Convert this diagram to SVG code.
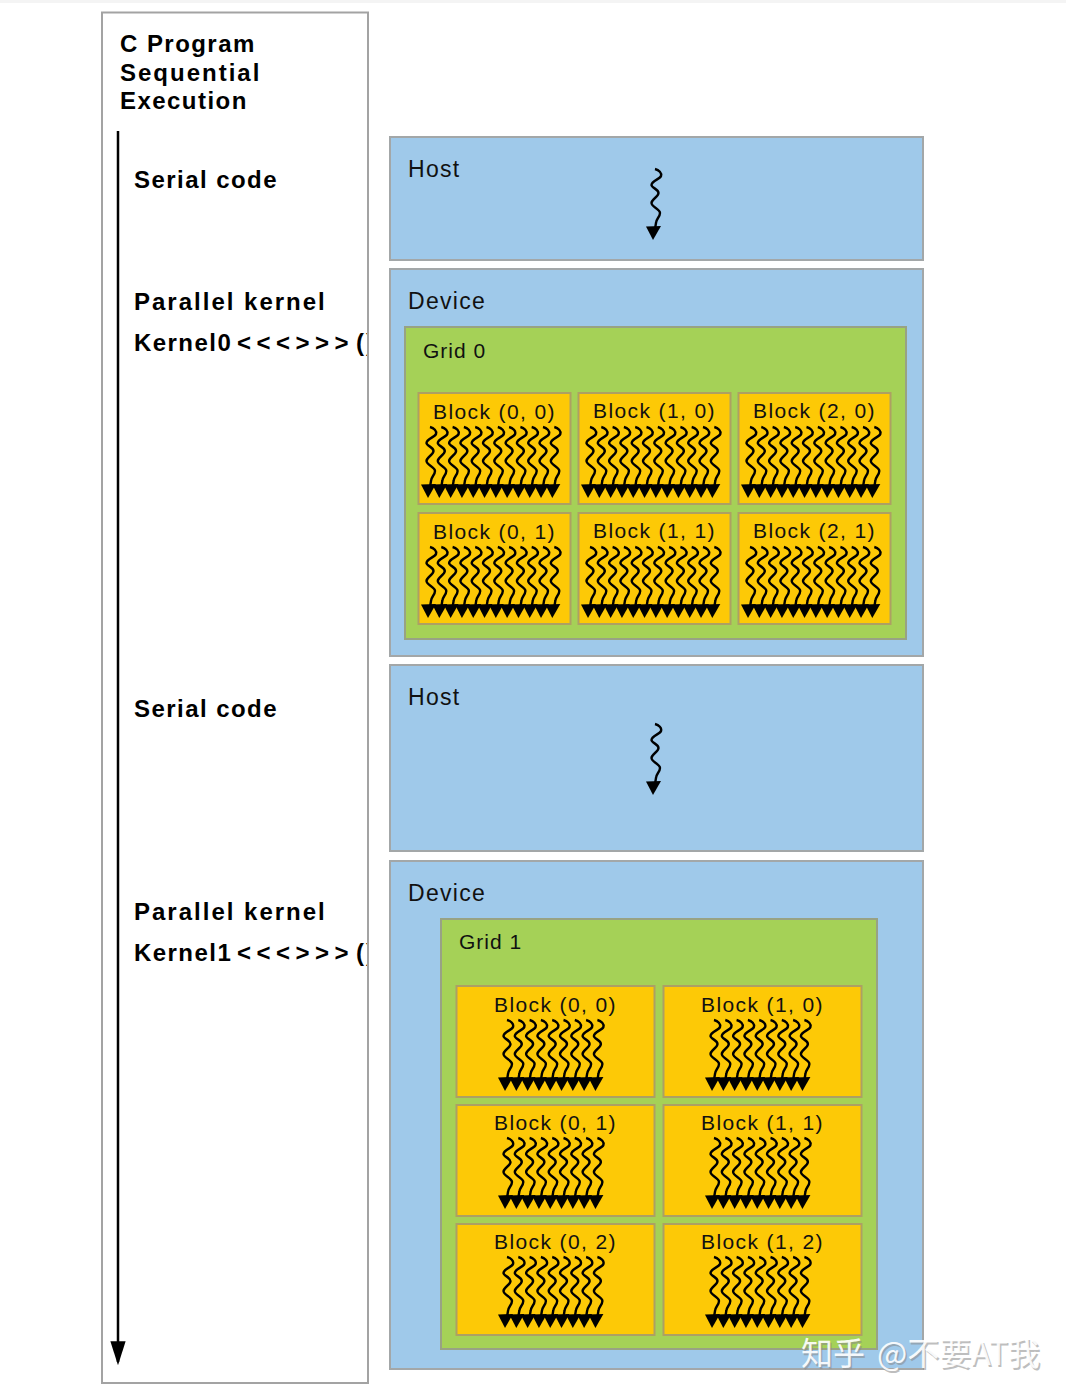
<svg xmlns="http://www.w3.org/2000/svg" width="1066" height="1400" viewBox="0 0 1066 1400">
<style>
text{font-family:"Liberation Sans",Arial,sans-serif;fill:#111}
.b{font-weight:bold;font-size:24px;fill:#000}
.s1{letter-spacing:1.450px}
.s2{letter-spacing:2px}
.a{letter-spacing:5.500px}
.l{font-size:23px;letter-spacing:1.300px}
.g{font-size:21px;letter-spacing:1.400px}
.k{font-size:21px;letter-spacing:1px}
.panel{fill:#9fc9ea;stroke:#a3a7a8;stroke-width:2}
.grid{fill:#a5d157;stroke:#98a284;stroke-width:2}
.block{fill:#fdc906;stroke:#ada063;stroke-width:2}
.w{fill:none;stroke:#000;stroke-width:2.400}
.wm{font-family:"Noto Sans CJK SC","Liberation Sans",sans-serif;font-size:32px}
</style>
<defs>
<clipPath id="leftclip"><rect x="100" y="10" width="267" height="1375"/></clipPath>
<marker id="ah" markerUnits="userSpaceOnUse" markerWidth="16" markerHeight="24" refX="7" refY="19" orient="0" viewBox="0 0 14 22"><path d="M0 0H14L7 22Z" fill="#000"/></marker>
<g id="t"><path class="w" d="M0 0C4 1 7 4 6 7C5 10-3.500 12-3.500 16C-3.500 19 3.500 20 3.500 24C3.500 28-3.500 30-3.500 34C-3.500 38 5 40 5 44C5 48 1 50 1 54L0 60"/><path d="M-9 57.500L6 57-2 71Z" fill="#000"/></g>
<g id="t9"><use href="#t" x="0"/><use href="#t" x="11.300"/><use href="#t" x="22.600"/><use href="#t" x="33.900"/><use href="#t" x="45.200"/><use href="#t" x="56.500"/><use href="#t" x="67.800"/><use href="#t" x="79.100"/><use href="#t" x="90.400"/></g>
<g id="t12"><use href="#t9"/><use href="#t" x="101.700"/><use href="#t" x="113"/><use href="#t" x="124.300"/></g>
</defs>
<rect width="1066" height="1400" fill="#fff"/>
<rect width="1066" height="3" fill="#f4f4f4"/>
<g id="program">
<rect x="102" y="12.500" width="266" height="1370.500" fill="#fff" stroke="#a3a3a3" stroke-width="2"/>
<text class="b s1" x="120" y="52">C Program</text>
<text class="b s2" x="120" y="81">Sequential</text>
<text class="b s1" x="120" y="109">Execution</text>
<g clip-path="url(#leftclip)">
<text class="b s1" x="134" y="188">Serial code</text>
<text class="b s2" x="134" y="310">Parallel kernel</text>
<text class="b s1" x="134" y="351">Kernel0<tspan class="a" x="237">&lt;&lt;&lt;&gt;&gt;&gt;</tspan><tspan class="s2" x="356">()</tspan></text>
<text class="b s1" x="134" y="717">Serial code</text>
<text class="b s2" x="134" y="920">Parallel kernel</text>
<text class="b s1" x="134" y="961">Kernel1<tspan class="a" x="237">&lt;&lt;&lt;&gt;&gt;&gt;</tspan><tspan class="s2" x="356">()</tspan></text>
</g>
</g>
<g id="host1">
<rect class="panel" x="390" y="137" width="533" height="123"/>
<text class="l" x="408" y="177">Host</text>
</g>
<g id="device1">
<rect class="panel" x="390" y="269" width="533" height="387"/>
<text class="l" x="408" y="309">Device</text>
</g>
<g id="grid0">
<rect class="grid" x="405" y="327" width="501" height="312"/>
<text class="k" x="423" y="358">Grid 0</text>
</g>
<g id="g0-block-0-0"><rect class="block" x="418.500" y="393" width="152" height="111"/><text class="g" x="433" y="419">Block (0, 0)</text><use href="#t12" x="430" y="427"/></g>
<g id="g0-block-1-0"><rect class="block" x="578.500" y="393" width="152" height="111"/><text class="g" x="593" y="418">Block (1, 0)</text><use href="#t12" x="590" y="427"/></g>
<g id="g0-block-2-0"><rect class="block" x="738.500" y="393" width="152" height="111"/><text class="g" x="753" y="418">Block (2, 0)</text><use href="#t12" x="750" y="427"/></g>
<g id="g0-block-0-1"><rect class="block" x="418.500" y="513" width="152" height="111"/><text class="g" x="433" y="539">Block (0, 1)</text><use href="#t12" x="430" y="547"/></g>
<g id="g0-block-1-1"><rect class="block" x="578.500" y="513" width="152" height="111"/><text class="g" x="593" y="538">Block (1, 1)</text><use href="#t12" x="590" y="547"/></g>
<g id="g0-block-2-1"><rect class="block" x="738.500" y="513" width="152" height="111"/><text class="g" x="753" y="538">Block (2, 1)</text><use href="#t12" x="750" y="547"/></g>
<g id="host2">
<rect class="panel" x="390" y="665" width="533" height="186"/>
<text class="l" x="408" y="705">Host</text>
</g>
<g id="device2">
<rect class="panel" x="390" y="861" width="533" height="508"/>
<text class="l" x="408" y="901">Device</text>
</g>
<g id="grid1">
<rect class="grid" x="441" y="919" width="436" height="430"/>
<text class="k" x="459" y="949">Grid 1</text>
</g>
<g id="g1-block-0-0"><rect class="block" x="456.500" y="986" width="198" height="111"/><text class="g" x="494" y="1012">Block (0, 0)</text><use href="#t9" x="507" y="1020"/></g>
<g id="g1-block-1-0"><rect class="block" x="663.500" y="986" width="198" height="111"/><text class="g" x="701" y="1012">Block (1, 0)</text><use href="#t9" x="714" y="1020"/></g>
<g id="g1-block-0-1"><rect class="block" x="456.500" y="1105" width="198" height="111"/><text class="g" x="494" y="1130">Block (0, 1)</text><use href="#t9" x="507" y="1138"/></g>
<g id="g1-block-1-1"><rect class="block" x="663.500" y="1105" width="198" height="111"/><text class="g" x="701" y="1130">Block (1, 1)</text><use href="#t9" x="714" y="1138"/></g>
<g id="g1-block-0-2"><rect class="block" x="456.500" y="1224" width="198" height="111"/><text class="g" x="494" y="1249">Block (0, 2)</text><use href="#t9" x="507" y="1257"/></g>
<g id="g1-block-1-2"><rect class="block" x="663.500" y="1224" width="198" height="111"/><text class="g" x="701" y="1249">Block (1, 2)</text><use href="#t9" x="714" y="1257"/></g>
<g id="connectors">
<line x1="118" y1="131" x2="118" y2="1362" stroke="#000" stroke-width="2.500" marker-end="url(#ah)"/>
<use href="#t" x="655" y="169"/>
<use href="#t" x="655" y="724"/>
</g>
<g id="watermark">
<text class="wm" x="801" y="1365" style="fill:#8a8a8a" opacity="0.55" transform="translate(1.500 1.500)">知乎<tspan x="877">@不要AT我</tspan></text>
<text class="wm" x="801" y="1365" style="fill:#fff" opacity="0.9">知乎<tspan x="877">@不要AT我</tspan></text>
</g>
</svg>
